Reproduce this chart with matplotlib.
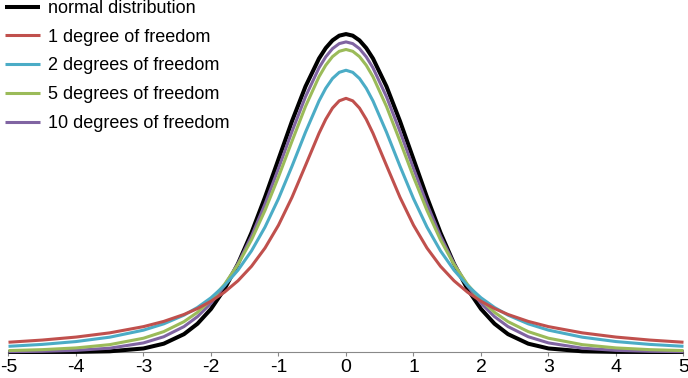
import matplotlib
matplotlib.use("Agg")
import matplotlib.pyplot as plt

plt.rcParams['font.family'] = ['Liberation Sans', 'DejaVu Sans']

# x positions and density values
x = [-5, -4.5, -4, -3.5, -3, -2.7, -2.4, -2.2, -2, -1.8, -1.6, -1.4, -1.2, -1, -0.8, -0.6,
     -0.4, -0.3, -0.2, -0.1, 0, 0.1, 0.2, 0.3, 0.4, 0.6, 0.8, 1, 1.2, 1.4, 1.6, 1.8, 2,
     2.2, 2.4, 2.7, 3, 3.5, 4, 4.5, 5]

normal = [0.0, 0.00002, 0.00013, 0.00087, 0.00443, 0.01042, 0.02239, 0.03547, 0.05399,
          0.07895, 0.11092, 0.14973, 0.19419, 0.24197, 0.28969, 0.33322, 0.36827, 0.38139,
          0.39104, 0.39695, 0.39894, 0.39695, 0.39104, 0.38139, 0.36827, 0.33322, 0.28969,
          0.24197, 0.19419, 0.14973, 0.11092, 0.07895, 0.05399, 0.03547, 0.02239, 0.01042,
          0.00443, 0.00087, 0.00013, 0.00002, 0.0]

df1 = [0.01224, 0.01498, 0.01872, 0.02402, 0.03183, 0.03840, 0.04709, 0.05451, 0.06366,
       0.07507, 0.08941, 0.10754, 0.13045, 0.15915, 0.19409, 0.23405, 0.27441, 0.29203,
       0.30607, 0.31516, 0.31831, 0.31516, 0.30607, 0.29203, 0.27441, 0.23405, 0.19409,
       0.15915, 0.13045, 0.10754, 0.08941, 0.07507, 0.06366, 0.05451, 0.04709, 0.03840,
       0.03183, 0.02402, 0.01872, 0.01498, 0.01224]

df2 = [0.00713, 0.00953, 0.01309, 0.01859, 0.02741, 0.03532, 0.04626, 0.05590, 0.06804,
       0.08337, 0.10270, 0.12690, 0.15673, 0.19245, 0.23313, 0.27582, 0.31501, 0.33096,
       0.34321, 0.35092, 0.35355, 0.35092, 0.34321, 0.33096, 0.31501, 0.27582, 0.23313,
       0.19245, 0.15673, 0.12690, 0.10270, 0.08337, 0.06804, 0.05590, 0.04626, 0.03532,
       0.02741, 0.01859, 0.01309, 0.00953, 0.00713]

df5 = [0.00176, 0.00295, 0.00512, 0.00924, 0.01729, 0.02556, 0.03809, 0.04980, 0.06509,
       0.08481, 0.10982, 0.14074, 0.17766, 0.21968, 0.26449, 0.30814, 0.34538, 0.35983,
       0.37064, 0.37734, 0.37961, 0.37734, 0.37064, 0.35983, 0.34538, 0.30814, 0.26449,
       0.21968, 0.17766, 0.14074, 0.10982, 0.08481, 0.06509, 0.04980, 0.03809, 0.02556,
       0.01729, 0.00924, 0.00512, 0.00295, 0.00176]

df10 = [0.00040, 0.00088, 0.00203, 0.00478, 0.01140, 0.01915, 0.03188, 0.04438, 0.06115,
        0.08313, 0.11108, 0.14539, 0.18566, 0.23036, 0.27663, 0.32032, 0.35658, 0.37040,
        0.38066, 0.38697, 0.38911, 0.38697, 0.38066, 0.37040, 0.35658, 0.32032, 0.27663,
        0.23036, 0.18566, 0.14539, 0.11108, 0.08313, 0.06115, 0.04438, 0.03188, 0.01915,
        0.01140, 0.00478, 0.00203, 0.00088, 0.00040]

labels = ['normal distribution', '1 degree of freedom', '2 degrees of freedom',
          '5 degrees of freedom', '10 degrees of freedom']
colors = ['#000000', '#C0504D', '#4BACC6', '#9BBB59', '#8064A2']
tick_vals = [-5, -4, -3, -2, -1, 0, 1, 2, 3, 4, 5]
tick_labels = ['-5', '-4', '-3', '-2', '-1', '0', '1', '2', '3', '4', '5']

fig = plt.figure(figsize=(6.88, 3.78), dpi=100)
ax = fig.add_axes([0.01235, 0.0688, 0.9811, 0.9312])

series = [normal, df1, df2, df5, df10]
widths = [2.9, 2.2, 2.2, 2.2, 2.2]
zorders = [2, 7, 6, 5, 4]
for ys, lab, c, w, z in zip(series, labels, colors, widths, zorders):
    ax.plot(x, ys, color=c, lw=w, label=lab, zorder=z,
            solid_joinstyle='round', solid_capstyle='butt', clip_on=False)

ax.set_xlim(-5, 5)
ax.set_ylim(0, 0.4417)
ax.set_xticks(tick_vals)
ax.set_xticklabels(tick_labels, fontsize=14)
ax.set_yticks([])
for s in ['top', 'right', 'left']:
    ax.spines[s].set_visible(False)
ax.spines['bottom'].set_color('#898989')
ax.spines['bottom'].set_linewidth(0.8)
ax.spines['bottom'].set_zorder(1)
ax.tick_params(axis='x', direction='out', length=3, width=0.8, color='#898989', pad=2)

leg = ax.legend(loc='upper left', bbox_to_anchor=(0.0073, 1.0), bbox_transform=fig.transFigure,
                frameon=False, fontsize=13, handlelength=1.95, handletextpad=0.42,
                labelspacing=0.65, borderpad=0.0, borderaxespad=0.0)

fig.savefig('out.png', dpi=100)
